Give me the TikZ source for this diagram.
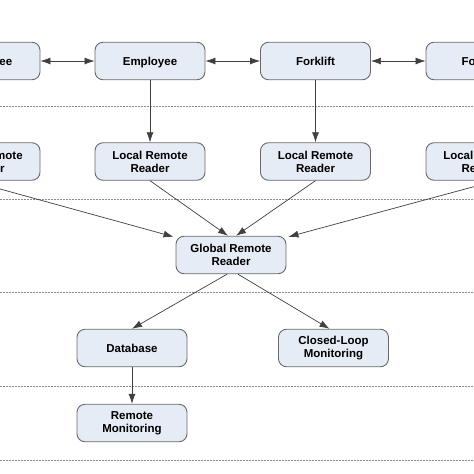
\documentclass[tikz,border=0pt]{standalone}
\usepackage{fontspec}
\setmainfont{Liberation Sans}
\usetikzlibrary{arrows.meta}
\definecolor{boxfill}{HTML}{E6ECF6}
\definecolor{boxline}{HTML}{6A6A6A}
\definecolor{conn}{HTML}{404040}
\tikzset{
  blk/.style={draw=boxline, fill=boxfill, line width=0.9pt, rounded corners=8pt,
    minimum width=110pt, minimum height=37.5pt, align=center, inner sep=1pt,
    font=\fontsize{11.5}{13}\selectfont\bfseries},
  oneline/.style={text height=10.5pt, text depth=2.2pt},
  tip/.tip={Latex[length=10pt,width=7pt]},
  arr/.style={draw=conn, line width=0.7pt, -tip},
  darr/.style={draw=conn, line width=0.7pt, tip-tip},
  sep/.style={draw=gray!90, line width=0.6pt, dash pattern=on 1.8pt off 1.2pt}
}
\begin{document}
\begin{tikzpicture}[x=1pt,y=-1pt]
\useasboundingbox (0,0) rectangle (474,474);
\clip (0,0) rectangle (474,474);
\fill[white] (0,0) rectangle (474,474);
% separators
\foreach \yy in {106.5,199,292.5,386,460.5}
  \draw[sep] (0,\yy) -- (474,\yy);
% row 1
\node[blk,oneline] (e0) at (-15,61) {Employee};
\node[blk,oneline] (e1) at (150,61) {Employee};
\node[blk,oneline] (f1) at (315.5,61) {Forklift};
\node[blk,oneline] (f2) at (481,61) {Forklift};
% row 2
\node[blk] (l0) at (-15,161.5) {Local Remote\\Reader};
\node[blk] (l1) at (150,161.5) {Local Remote\\Reader};
\node[blk] (l2) at (315.5,161.5) {Local Remote\\Reader};
\node[blk] (l3) at (481,161.5) {Local Remote\\Reader};
% row 3
\node[blk] (g) at (231,255) {Global Remote\\Reader};
% row 4
\node[blk,oneline] (db) at (132,348) {Database};
\node[blk] (cl) at (333.5,348) {Closed-Loop\\Monitoring};
% row 5
\node[blk] (rm) at (132,423) {Remote\\Monitoring};
% connectors
\draw[darr] (e0.east) -- (e1.west);
\draw[darr] (e1.east) -- (f1.west);
\draw[darr] (f1.east) -- (f2.west);
\draw[arr] (e1.south) -- (l1.north);
\draw[arr] (f1.south) -- (l2.north);
\draw[arr] ([xshift=-15pt]l0.south) -- ([xshift=-2pt,yshift=-1pt]g.north west);
\draw[arr] (l1.south) -- ([xshift=-3pt]g.north);
\draw[arr] (l2.south) -- ([xshift=5pt]g.north);
\draw[arr] ([xshift=15pt]l3.south) -- ([xshift=2pt,yshift=-1pt]g.north east);
\draw[arr] ([xshift=-4pt]g.south) -- (db.north);
\draw[arr] ([xshift=7pt]g.south) -- ([xshift=-4pt]cl.north);
\draw[arr] (db.south) -- (rm.north);
\end{tikzpicture}
\end{document}
